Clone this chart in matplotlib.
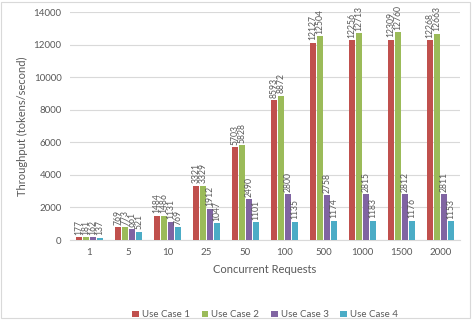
import numpy as np
import matplotlib
matplotlib.use('Agg')
import matplotlib.pyplot as plt
from matplotlib.patches import Rectangle

# throughput per concurrency level, one list per use case
concurrency = ['1', '5', '10', '25', '50', '100', '500', '1000', '1500', '2000']
use_case_1 = [177, 769, 1484, 3321, 5703, 8593, 12127, 12256, 12309, 12268]
use_case_2 = [181, 773, 1486, 3329, 5828, 8872, 12504, 12713, 12760, 12663]
use_case_3 = [162, 661, 1131, 1912, 2490, 2800, 2758, 2815, 2812, 2811]
use_case_4 = [137, 521, 769, 1047, 1101, 1135, 1174, 1183, 1176, 1153]
series_names = ['Use Case 1', 'Use Case 2', 'Use Case 3', 'Use Case 4']

colors = ['#C0504D', '#9BBB59', '#8064A2', '#4BACC6']
text_color = '#595959'

plt.rcParams['font.family'] = ['Lato', 'DejaVu Sans']

fig = plt.figure(figsize=(4.74, 3.21), dpi=100)
ax = fig.add_axes([70 / 474, 1 - 240 / 321, 390 / 474, 228 / 321])

x = np.arange(len(concurrency))
width = 0.13
pitch = 0.18
all_series = [use_case_1, use_case_2, use_case_3, use_case_4]
for i, (vals, name, c) in enumerate(zip(all_series, series_names, colors)):
    pos = x + (i - 1.5) * pitch
    ax.bar(pos, vals, width=width, color=c, label=name, zorder=3)
    for px, v in zip(pos, vals):
        ax.text(px, v + 150, str(v), rotation=90, ha='center', va='bottom',
                fontsize=6.2, color=text_color)

ax.set_xlim(-0.5, len(concurrency) - 0.5)
ax.set_ylim(0, 14000)
ax.set_yticks(range(0, 14001, 2000))
ax.set_xticks(x)
ax.set_xticklabels(concurrency)
ax.tick_params(axis='both', length=0, labelsize=7, colors=text_color, pad=6)
ax.grid(axis='y', color='#D9D9D9', linewidth=0.8, zorder=0)
for side in ['top', 'right', 'left']:
    ax.spines[side].set_visible(False)
ax.spines['bottom'].set_color('#D9D9D9')

ax.set_xlabel('Concurrent Requests', fontsize=8, color=text_color, labelpad=5)
ax.set_ylabel('Throughput (tokens/second)', fontsize=8, color=text_color, labelpad=4)

ax.legend(loc='upper center', bbox_to_anchor=(0.5, -0.27), ncol=4, frameon=False,
          fontsize=7, handlelength=0.7, handleheight=0.7, handletextpad=0.3,
          columnspacing=1.2, labelcolor=text_color)

# thin frame round the chart area
fig.patches.append(Rectangle((0.002, 0.01), 0.99, 0.985, transform=fig.transFigure,
                             fill=False, edgecolor='#D9D9D9', linewidth=0.8))

fig.savefig('out.png', dpi=100)
